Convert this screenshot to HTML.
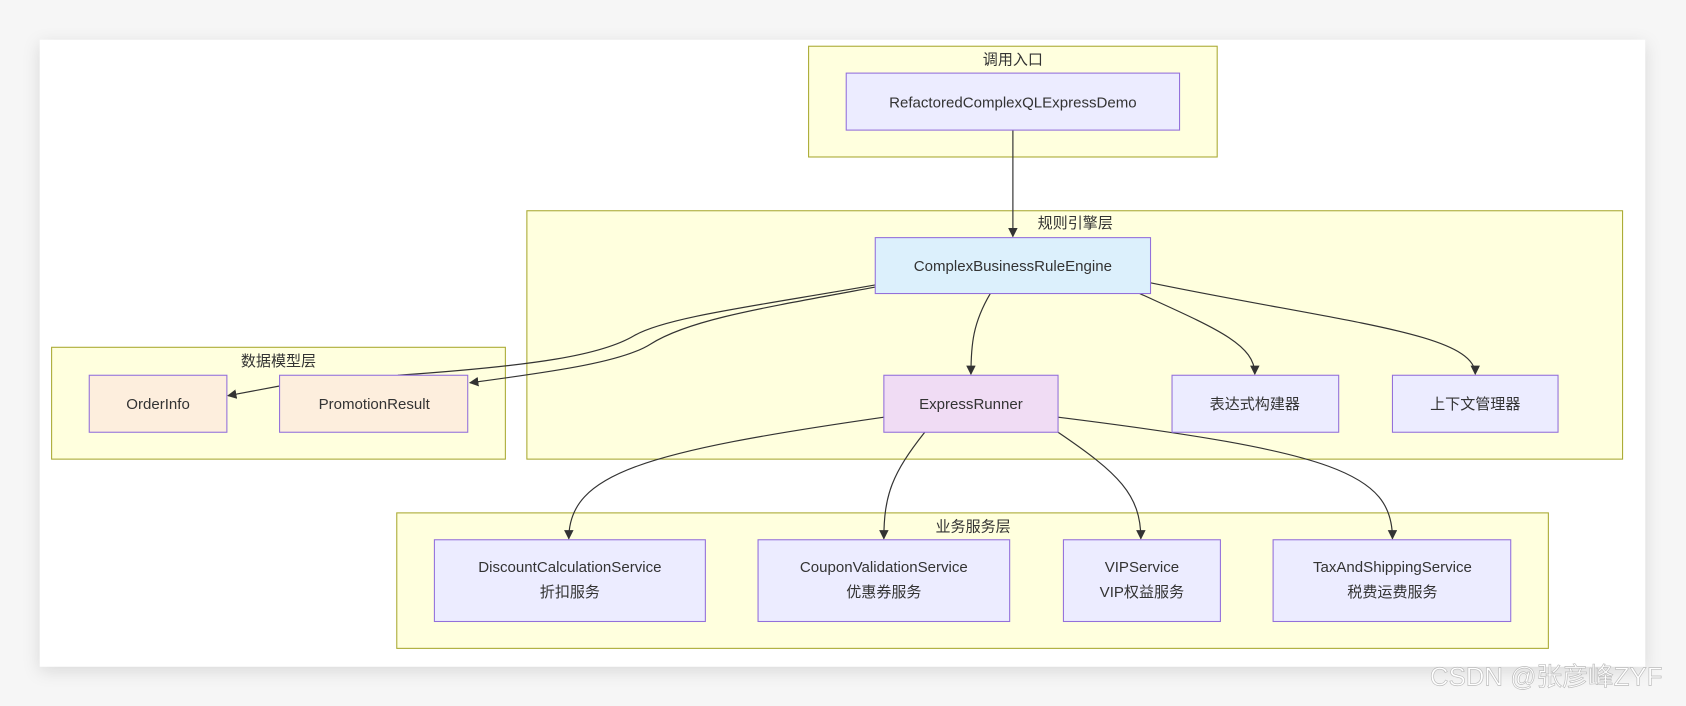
<!DOCTYPE html>
<html><head><meta charset="utf-8"><style>
html,body{margin:0;padding:0;background:#f6f6f6;width:1686px;height:706px;overflow:hidden}
svg{display:block}
text{font-family:"Liberation Sans","Noto Sans CJK SC",sans-serif;font-size:14px;fill:#333;text-anchor:middle;dominant-baseline:central}
.cl{fill:#ffffde;stroke:#aaaa33;stroke-width:1}
.nd{fill:#ececff;stroke:#9370db;stroke-width:1}
.e{fill:none;stroke:#333;stroke-width:1.1}
</style></head><body>
<svg width="1686" height="706" viewBox="0 0 1568 656.6" preserveAspectRatio="none">
<defs>
<filter id="sh" x="-5%" y="-5%" width="110%" height="115%"><feDropShadow dx="0" dy="4" stdDeviation="8" flood-color="#000" flood-opacity="0.12"/></filter>
<marker id="a" viewBox="0 0 10 10" refX="9" refY="5" markerWidth="8" markerHeight="8" orient="auto"><path d="M0,0L10,5L0,10z" fill="#333"/></marker>
</defs>
<rect x="37" y="37" width="1493" height="583" fill="#fff" filter="url(#sh)"/>
<rect class="cl" x="752" y="43" width="380" height="103"/>
<text x="942" y="56">调用入口</text>
<rect class="cl" x="490" y="196" width="1019" height="231"/>
<text x="1000" y="208">规则引擎层</text>
<rect class="cl" x="48" y="323" width="422" height="104"/>
<text x="259" y="336">数据模型层</text>
<rect class="cl" x="369" y="477" width="1071" height="126"/>
<text x="905" y="490">业务服务层</text>

<path class="e" d="M942,121L942,220" marker-end="url(#a)"/>
<path class="e" d="M814,265C700,285 620,295 590,312C560,330 500,340 370,349"/>
<path class="e" d="M260,359L212,368" marker-end="url(#a)"/>
<path class="e" d="M814,267C700,288 640,298 605,320C580,336 520,345 437,356" marker-end="url(#a)"/>
<path class="e" d="M921,273C905,300 903,320 903,348" marker-end="url(#a)"/>
<path class="e" d="M1060,273C1130,305 1167,320 1167,348" marker-end="url(#a)"/>
<path class="e" d="M1070,263C1250,300 1372,310 1372,348" marker-end="url(#a)"/>
<path class="e" d="M822,388C600,420 529,440 529,501" marker-end="url(#a)"/>
<path class="e" d="M860,402C830,440 822,460 822,501" marker-end="url(#a)"/>
<path class="e" d="M984,402C1040,440 1061,460 1061,501" marker-end="url(#a)"/>
<path class="e" d="M984,388C1240,420 1295,440 1295,501" marker-end="url(#a)"/>

<rect class="nd" x="787" y="68" width="310" height="53"/>
<text x="942" y="96">RefactoredComplexQLExpressDemo</text>
<rect class="nd" x="814" y="221" width="256" height="52" style="fill:#dcf0fc"/>
<text x="942" y="248">ComplexBusinessRuleEngine</text>
<rect class="nd" x="822" y="349" width="162" height="53" style="fill:#f0dcf4"/>
<text x="903" y="376">ExpressRunner</text>
<rect class="nd" x="1090" y="349" width="155" height="53"/>
<text x="1167" y="376">表达式构建器</text>
<rect class="nd" x="1295" y="349" width="154" height="53"/>
<text x="1372" y="376">上下文管理器</text>
<rect class="nd" x="83" y="349" width="128" height="53" style="fill:#fdeedd"/>
<text x="147" y="376">OrderInfo</text>
<rect class="nd" x="260" y="349" width="175" height="53" style="fill:#fdeedd"/>
<text x="348" y="376">PromotionResult</text>

<rect class="nd" x="404" y="502" width="252" height="76"/>
<text x="530" y="528">DiscountCalculationService</text><text x="530" y="551">折扣服务</text>
<rect class="nd" x="705" y="502" width="234" height="76"/>
<text x="822" y="528">CouponValidationService</text><text x="822" y="551">优惠券服务</text>
<rect class="nd" x="989" y="502" width="146" height="76"/>
<text x="1062" y="528">VIPService</text><text x="1062" y="551">VIP权益服务</text>
<rect class="nd" x="1184" y="502" width="221" height="76"/>
<text x="1295" y="528">TaxAndShippingService</text><text x="1295" y="551">税费运费服务</text>

<text x="1438" y="630" style="font-size:24px;fill:#fff;stroke:#bbb;stroke-width:0.6">CSDN @张彦峰ZYF</text>
</svg>
</body></html>
